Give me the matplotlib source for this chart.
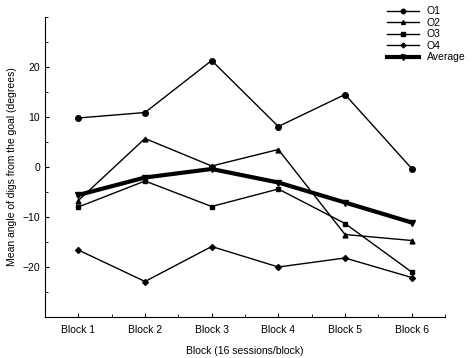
import matplotlib.pyplot as plt
from matplotlib.ticker import MultipleLocator

plt.rcParams['font.family'] = ['Liberation Sans', 'DejaVu Sans']

blocks = ['Block 1', 'Block 2', 'Block 3', 'Block 4', 'Block 5', 'Block 6']
o1 = [9.8, 10.9, 21.3, 8.1, 14.5, -0.3]
o2 = [-6.7, 5.7, 0.2, 3.5, -13.5, -14.7]
o3 = [-8.0, -2.8, -7.9, -4.4, -11.3, -21.0]
o4 = [-16.6, -22.9, -15.9, -20.0, -18.2, -22.1]
average = [-5.6, -2.1, -0.4, -3.1, -7.1, -11.1]

x = list(range(1, len(blocks) + 1))

fig = plt.figure(figsize=(4.74, 3.58), dpi=100)
ax = fig.add_axes([45/474, 41/358, 400/474, 300/358])

ax.plot(x, o1, color='black', lw=1, marker='o', ms=4, label='O1')
ax.plot(x, o2, color='black', lw=1, marker='^', ms=3.5, label='O2')
ax.plot(x, o3, color='black', lw=1, marker='s', ms=3.5, label='O3')
ax.plot(x, o4, color='black', lw=1, marker='D', ms=3, label='O4')
ax.plot(x, average, color='black', lw=3, marker='v', ms=4.5, label='Average')

ax.set_xlim(0.5, 6.5)
ax.set_ylim(-30, 30)
ax.set_xticks(x)
ax.set_xticklabels(blocks)
ax.xaxis.set_minor_locator(MultipleLocator(0.5))
ax.set_yticks([-20, -10, 0, 10, 20])
ax.yaxis.set_minor_locator(MultipleLocator(5))
ax.tick_params(direction='in', length=3, width=0.8, labelsize=7.5)
ax.tick_params(which='minor', direction='in', length=2, width=0.6)
ax.tick_params(axis='x', pad=6)

for s in ['top', 'right']:
    ax.spines[s].set_visible(False)

ax.set_xlabel('Block (16 sessions/block)', fontsize=7.5, labelpad=8)
ax.set_ylabel('Mean angle of digs from the goal (degrees)', fontsize=7.5, labelpad=4)

fig.legend(loc='upper left', bbox_to_anchor=(381/474, 1.0), frameon=False,
           fontsize=7.5, handlelength=3.0, labelspacing=0.15, handletextpad=0.8,
           borderaxespad=0.2, markerscale=0.8)

plt.savefig('out.png', dpi=100)
